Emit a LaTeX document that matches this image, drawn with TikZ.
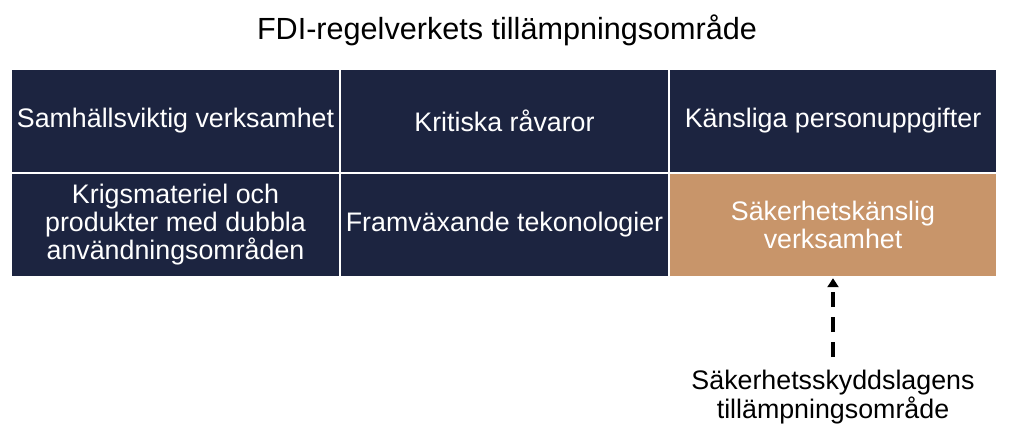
\documentclass[tikz,border=0pt]{standalone}
\usepackage{fontspec}
\setmainfont{Liberation Sans}
\usetikzlibrary{arrows.meta}
\definecolor{navy}{RGB}{28,36,64}
\definecolor{tan}{RGB}{200,149,106}
\tikzset{
    cell/.style={fill=navy, text=white, minimum width=327pt, minimum height=102pt,
        inner sep=0pt, align=center, font=\fontsize{26.8}{28}\selectfont},
    hl/.style={cell, fill=tan},
}
\begin{document}
\begin{tikzpicture}[x=1pt, y=-1pt]
    \useasboundingbox (0,0) rectangle (1024,443);

    % Title
    \node[font=\fontsize{30.6}{32}\selectfont] (title) at (507,30) {FDI-regelverkets tillämpningsområde};

    % Top row
    \node[cell] (samh) at (175.5,121) {Samhällsviktig verksamhet};
    \node[cell] (krit) at (504.5,121) {Kritiska råvaror};
    \node[cell, minimum width=326pt] (pers) at (833,121) {Känsliga personuppgifter};

    % Bottom row
    \node[cell] (krig) at (175.5,225) {Krigsmateriel och\\produkter med dubbla\\användningsområden};
    \node[cell] (tekn) at (504.5,225) {Framväxande tekonologier};
    \node[hl, minimum width=326pt] (sak) at (833,225) {Säkerhetskänslig\\verksamhet};

    % Scope of the security act
    \node[align=center, font=\fontsize{26.8}{26}\selectfont, inner sep=0pt] (lag) at (833,397)
        {Säkerhetsskyddslagens\\tillämpningsområde};
    \draw[-{Triangle[width=11pt,length=9pt]}, line width=3.5pt, dash pattern=on 15pt off 10pt,
        shorten <=13pt, shorten >=2pt] (lag.north) -- (sak.south);
\end{tikzpicture}
\end{document}
